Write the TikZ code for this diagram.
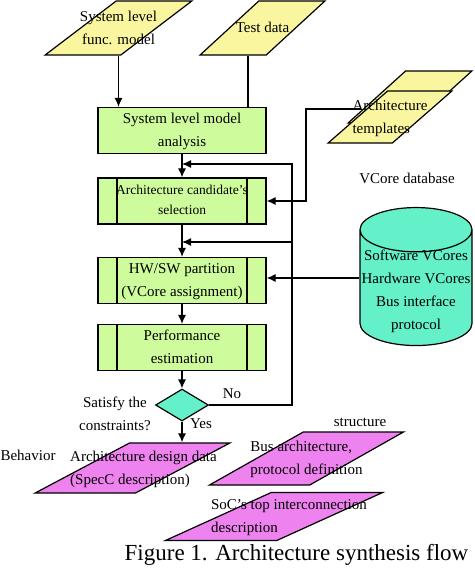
\documentclass[tikz,border=0pt]{standalone}
\usepackage{fontspec}
\setmainfont{Liberation Serif}
\usetikzlibrary{shapes.geometric,arrows.meta}
\definecolor{datayel}{RGB}{250,246,160}
\definecolor{procgrn}{RGB}{206,252,156}
\definecolor{aqua}{RGB}{100,240,200}
\definecolor{outpink}{RGB}{238,130,238}
% text of zero width, so that it does not resize the shape around it
\newcommand{\ztext}[2][c]{\makebox[0pt][c]{\begin{tabular}{@{}#1@{}}#2\end{tabular}}}
\begin{document}
\begin{tikzpicture}[x=1pt, y=-1pt,
    every node/.style={font=\fontsize{15}{23}\selectfont},
    datablk/.style={trapezium, trapezium stretches=true, draw, line width=1.2pt, inner sep=1pt},
    procbox/.style={rectangle, draw, line width=1.2pt, fill=procgrn, minimum width=168, minimum height=46, inner sep=0pt},
    subproc/.style={procbox, path picture={
        \draw[line width=1.2pt] ([xshift=19pt]path picture bounding box.north west) -- ([xshift=19pt]path picture bounding box.south west)
            ([xshift=-19pt]path picture bounding box.north east) -- ([xshift=-19pt]path picture bounding box.south east);}},
    flow/.style={line width=1.2pt, -{Latex[length=9pt,width=8pt]}}]
    \useasboundingbox (0,0) rectangle (474,569);
    % inputs
    \node[datablk, fill=datayel, trapezium left angle=57.5, trapezium right angle=122.5, minimum width=147, minimum height=54] (fm) at (118.5,28) {\ztext{System level\\func. model}};
    \node[datablk, fill=datayel, trapezium left angle=57.5, trapezium right angle=122.5, minimum width=125, minimum height=54] (td) at (262.5,28) {\ztext{Test data}};
    \node[datablk, fill=datayel, trapezium left angle=62.5, trapezium right angle=117.5, minimum width=124, minimum height=52] (tmplbk) at (410,97) {\ztext{\strut}};
    \node[datablk, fill=datayel, trapezium left angle=62.5, trapezium right angle=117.5, minimum width=124, minimum height=52] (tmpl) at (390,117) {\ztext[l]{Architecture\\templates}};
    % flow
    \node[procbox] (sla) at (182,130.5) {\ztext{System level model\\analysis}};
    \node[subproc, font=\fontsize{13.5}{20}\selectfont] (acs) at (182,201) {\ztext{Architecture candidate's\\selection}};
    \node[subproc] (hw) at (182,280.5) {\ztext{HW/SW partition\\(VCore assignment)}};
    \node[subproc] (pe) at (182,347.5) {\ztext{Performance\\estimation}};
    \node[diamond, draw, line width=1.2pt, fill=aqua, minimum width=53, minimum height=32, inner sep=0pt] (dia) at (182,405) {};
    \node (satq) at (115,414) {\ztext{Satisfy the\\constraints?}};
    \node (yes) at (201,424) {Yes};
    \node (no) at (232,394) {No};
    % database
    \node (vcl) at (407,178) {VCore database};
    \node[cylinder, shape border rotate=90, aspect=0.4, draw, line width=1.2pt, fill=aqua, minimum width=112, minimum height=138, inner xsep=1pt, inner ysep=0pt] (db) at (416,290) {\raisebox{-4pt}[0pt][0pt]{\begin{tabular}{@{}c@{}}Software VCores\\Hardware VCores\\Bus interface\\protocol\end{tabular}}};
    % outputs
    \node (beh) at (28,455) {Behavior};
    \node (str) at (360,422) {structure};
    \node[datablk, fill=outpink, trapezium left angle=56.6, trapezium right angle=123.4, minimum width=195, minimum height=50] (add) at (132.5,468) {\ztext[l]{\hspace*{22pt}Architecture design data\\\hspace*{22pt}(SpecC description)}};
    \node[datablk, fill=outpink, trapezium left angle=58.9, trapezium right angle=121.1, minimum width=195, minimum height=53] (bus) at (306.5,458.5) {\ztext[l]{Bus architecture,\\protocol definition}};
    \node[datablk, fill=outpink, trapezium left angle=51.7, trapezium right angle=128.3, minimum width=218, minimum height=43] (soc) at (274,516.5) {\makebox[0pt]{\hspace{30pt}\begin{tabular}{@{}l@{}}SoC's top interconnection\\description\end{tabular}}};
    \node[font=\fontsize{23}{27}\selectfont] (cap) at (296.5,555) {Figure 1. Architecture synthesis flow};
    % connectors
    \coordinate (tdfoot) at ([xshift=-14.5pt]td.south);
    \coordinate (fbtop) at (292,164);
    \coordinate (fbmid) at (292,242);
    \coordinate (tcol) at (306,150);
    \draw[flow] (fm.south) -- (fm.south |- sla.north);
    \draw[flow, -] (tdfoot) -- (tdfoot |- sla.north);
    \draw[flow] (sla) -- (acs);
    \draw[flow] (acs) -- (hw);
    \draw[flow] (hw) -- (pe);
    \draw[flow] (pe) -- (dia);
    \draw[flow] (dia.south) -- (dia.south |- add.north);
    \draw[flow] (dia.east) -| (fbtop) -- (fbtop -| sla.south);
    \draw[flow] (fbmid) -- (fbmid -| acs.south);
    \draw[flow] ([yshift=8pt,xshift=4pt]tmpl.west) -| (tcol) |- (acs.east);
    \draw[flow] ([yshift=12pt]db.west) -- ([yshift=12pt]db.west -| hw.east);
\end{tikzpicture}
\end{document}
